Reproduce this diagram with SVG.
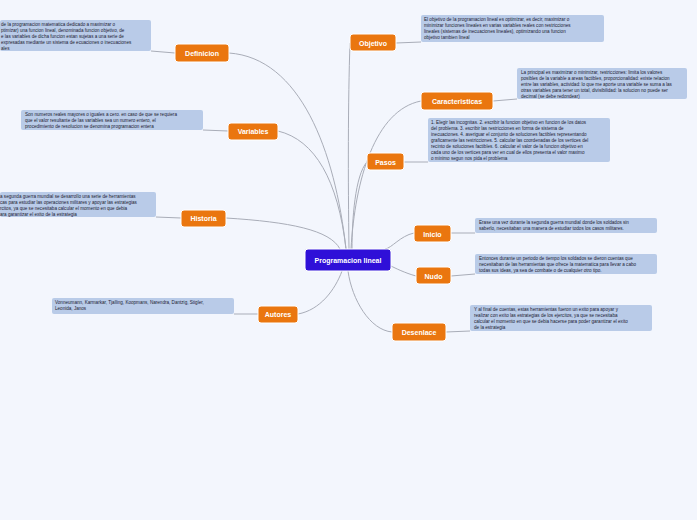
<svg xmlns="http://www.w3.org/2000/svg" width="697" height="520" viewBox="0 0 697 520">
<style>
.n rect{fill:#ea760f;stroke:#fff;stroke-width:1}
.n text{fill:#fff;font:bold 7px "Liberation Sans",sans-serif;text-anchor:middle}
.b rect{fill:#b9cbe8}
.b text{fill:#223;font:4.6px "Liberation Sans",sans-serif}
.c path{fill:none;stroke:#a9adb8;stroke-width:1}
</style>
<rect width="697" height="520" fill="#f3f6fd"/>
<g class="c">
<path d="M229,53 C300,58 335,150 346,249"/>
<path d="M278,131 C315,140 338,180 346,249"/>
<path d="M226,218 C290,222 330,230 340,249"/>
<path d="M298,314 C320,310 335,290 342,271"/>
<path d="M350,43 C348,100 348,180 349,249"/>
<path d="M421,101 C375,110 355,180 351,249"/>
<path d="M367,162 C355,175 352,220 352,249"/>
<path d="M414,233 C400,236 392,248 385,249"/>
<path d="M416,276 C405,273 395,268 391,266"/>
<path d="M392,332 C370,330 352,300 348,271"/>
<path d="M151,51 L175,53"/><path d="M203,130 L228,131"/><path d="M156,217 L181,218"/><path d="M234,314 L258,314"/>
<path d="M396,43 L421,42"/><path d="M493,101 L517,99"/><path d="M404,162 L428,162"/><path d="M451,233 L475,233"/><path d="M451,276 L475,274"/><path d="M446,332 L470,331"/>
</g>
<g id="central"><rect x="305" y="249" width="86" height="22" rx="3" fill="#2f10d8" stroke="#fff"/><text x="348" y="263" fill="#fff" font-family="Liberation Sans,sans-serif" font-weight="bold" font-size="7" text-anchor="middle">Programacion lineal</text></g>
<g id="definicion" class="n"><rect x="175" y="44" width="54" height="18" rx="3"/><text x="202" y="56">Definicion</text></g>
<g id="variables" class="n"><rect x="228" y="123" width="50" height="17" rx="3"/><text x="253" y="134">Variables</text></g>
<g id="historia" class="n"><rect x="181" y="210" width="45" height="17" rx="3"/><text x="203.5" y="221">Historia</text></g>
<g id="autores" class="n"><rect x="258" y="306" width="40" height="17" rx="3"/><text x="278" y="317">Autores</text></g>
<g id="objetivo" class="n"><rect x="350" y="34" width="46" height="17" rx="3"/><text x="373" y="45.5">Objetivo</text></g>
<g id="caracteristicas" class="n"><rect x="421" y="92" width="72" height="18" rx="3"/><text x="457" y="104">Caracteristicas</text></g>
<g id="pasos" class="n"><rect x="367" y="153" width="37" height="17" rx="3"/><text x="385.5" y="164.5">Pasos</text></g>
<g id="inicio" class="n"><rect x="414" y="225" width="37" height="17" rx="3"/><text x="432.5" y="236.5">Inicio</text></g>
<g id="nudo" class="n"><rect x="416" y="267" width="35" height="17" rx="3"/><text x="433.5" y="278.5">Nudo</text></g>
<g id="desenlace" class="n"><rect x="392" y="323" width="54" height="18" rx="3"/><text x="419" y="335">Desenlace</text></g>
<g id="t-definicion" class="b"><rect x="0" y="20" width="151" height="31" rx="2"/><text><tspan x="1" y="26">de la programacion matematica dedicado a maximizar o</tspan><tspan x="1" y="32">ptimizar) una funcion lineal, denominada funcion objetivo, de</tspan><tspan x="1" y="38">e las variables de dicha funcion estan sujetas a una serie de</tspan><tspan x="1" y="44">expresadas mediante un sistema de ecuaciones o inecuaciones</tspan><tspan x="1" y="50">ales</tspan></text></g>
<g id="t-variables" class="b"><rect x="21" y="110" width="182" height="20" rx="2"/><text><tspan x="25" y="116">Son numeros reales mayores o iguales a cero. en caso de que se requiera</tspan><tspan x="25" y="122">que el valor resultante de las variables sea un numero entero, el</tspan><tspan x="25" y="128">procedimiento de resolucion se denomina programacion entera</tspan></text></g>
<g id="t-historia" class="b"><rect x="0" y="192" width="156" height="25" rx="2"/><text><tspan x="0" y="198">a segunda guerra mundial se desarrollo una serie de herramientas</tspan><tspan x="0" y="204">cas para estudiar las operaciones militares y apoyar las estrategias</tspan><tspan x="0" y="210">rcitos, ya que se necesitaba calcular el momento en que debia</tspan><tspan x="0" y="216">ara garantizar el exito de la estrategia</tspan></text></g>
<g id="t-autores" class="b"><rect x="52" y="298" width="182" height="16" rx="2"/><text><tspan x="55" y="304">Vonneumann, Karmarkar, Tjalling, Koopmans, Narendra, Dantzig, Stigler,</tspan><tspan x="55" y="310">Leonida, Janos</tspan></text></g>
<g id="t-objetivo" class="b"><rect x="421" y="15" width="183" height="27" rx="2"/><text><tspan x="424" y="21">El objetivo de la programacion lineal es optimizar, es decir, maximizar o</tspan><tspan x="424" y="27">minimizar funciones lineales en varias variables reales con restricciones</tspan><tspan x="424" y="33">lineales (sistemas de inecuaciones lineales), optimizando una funcion</tspan><tspan x="424" y="39">objetivo tambien lineal</tspan></text></g>
<g id="t-caracteristicas" class="b"><rect x="517" y="68" width="170" height="31" rx="2"/><text><tspan x="521" y="74">La principal es maximizar o minimizar, restricciones: limita los valores</tspan><tspan x="521" y="80">posibles de la variable a areas factibles, proporcionalidad: existe relacion</tspan><tspan x="521" y="86">entre las variables, actividad: lo que me aporte una variable se suma a las</tspan><tspan x="521" y="92">otras variables para tener un total, divisibilidad: la solucion no puede ser</tspan><tspan x="521" y="98">decimal (se debe redondear)</tspan></text></g>
<g id="t-pasos" class="b"><rect x="428" y="118" width="182" height="44" rx="2"/><text><tspan x="431" y="124">1. Elegir las incognitas. 2. escribir la funcion objetivo en funcion de los datos</tspan><tspan x="431" y="130">del problema. 3. escribir las restricciones en forma de sistema de</tspan><tspan x="431" y="136">inecuaciones. 4. averiguar el conjunto de soluciones factibles representando</tspan><tspan x="431" y="142">graficamente las restricciones. 5. calcular las coordenadas de los vertices del</tspan><tspan x="431" y="148">recinto de soluciones factibles. 6. calcular el valor de la funcion objetivo en</tspan><tspan x="431" y="154">cada uno de los vertices para ver en cual de ellos presenta el valor maximo</tspan><tspan x="431" y="160">o minimo segun nos pida el problema</tspan></text></g>
<g id="t-inicio" class="b"><rect x="475" y="218" width="182" height="15" rx="2"/><text><tspan x="479" y="224">Erase una vez durante la segunda guerra mundial donde los soldados sin</tspan><tspan x="479" y="230">saberlo, necesitaban una manera de estudiar todos los casos militares.</tspan></text></g>
<g id="t-nudo" class="b"><rect x="475" y="254" width="182" height="20" rx="2"/><text><tspan x="479" y="260">Entonces durante un periodo de tiempo los soldados se dieron cuentas que</tspan><tspan x="479" y="266">necesitaban de las herramientas que ofrece la matematica para llevar a cabo</tspan><tspan x="479" y="272">todas sus ideas, ya sea de combate o de cualquier otro tipo.</tspan></text></g>
<g id="t-desenlace" class="b"><rect x="470" y="305" width="182" height="26" rx="2"/><text><tspan x="474" y="311">Y al final de cuentas, estas herramientas fueron un exito para apoyar y</tspan><tspan x="474" y="317">realizar con exito las estrategias de los ejercitos, ya que se necesitaba</tspan><tspan x="474" y="323">calcular el momento en que se debia hacerse para poder garantizar el exito</tspan><tspan x="474" y="329">de la estrategia</tspan></text></g>
</svg>
